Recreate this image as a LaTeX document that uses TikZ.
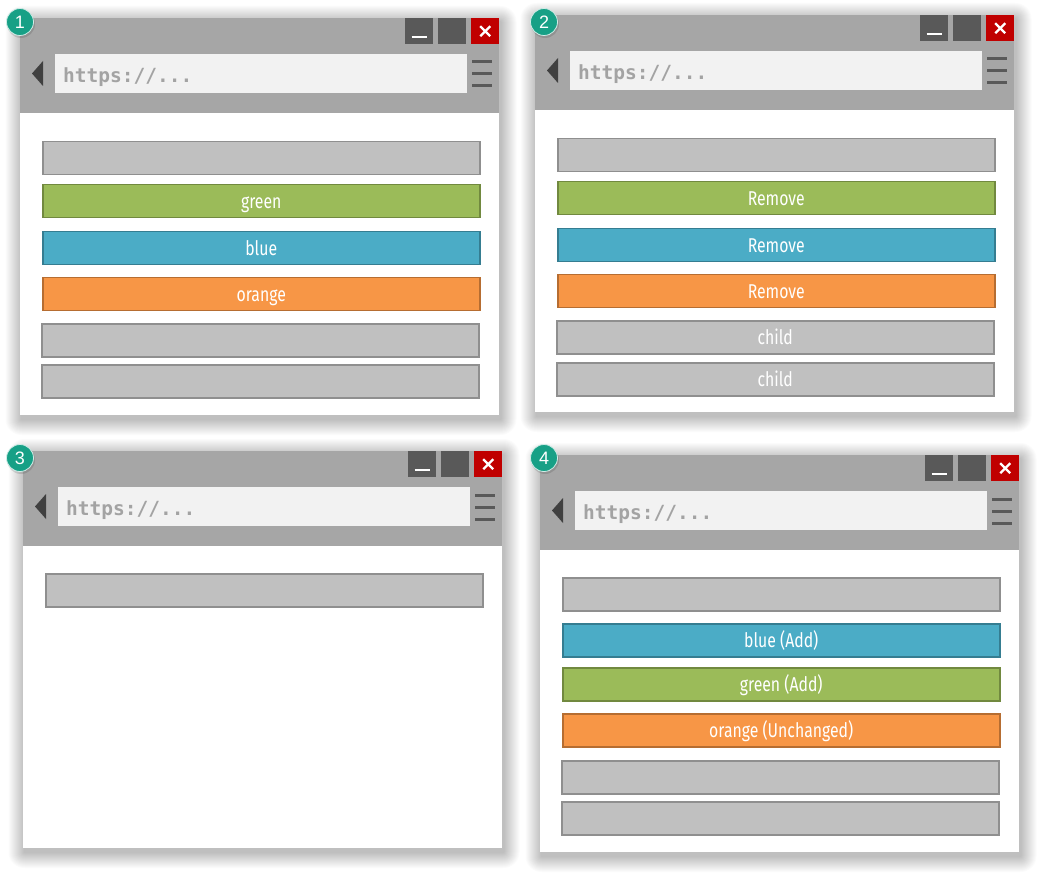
\documentclass[tikz,border=0pt]{standalone}
\usepackage{fontspec}
\setmainfont{Fira Sans}
\newfontfamily\rowfont{Fira Sans}[FakeStretch=0.79]
\newfontfamily\urlfont{DejaVu Sans Mono}
\newfontfamily\badgefont{Liberation Sans}
\definecolor{framegray}{HTML}{A6A6A6}
\definecolor{ctrlgray}{HTML}{595959}
\definecolor{closered}{HTML}{C00000}
\definecolor{barwhite}{HTML}{F2F2F2}
\definecolor{rowgray}{HTML}{C0C0C0}
\definecolor{rowgrayd}{HTML}{8F8F8F}
\definecolor{gfill}{HTML}{9BBB59}\definecolor{gdraw}{HTML}{71893F}
\definecolor{bfill}{HTML}{4BACC6}\definecolor{bdraw}{HTML}{357D91}
\definecolor{ofill}{HTML}{F79646}\definecolor{odraw}{HTML}{B66D31}
\definecolor{badgecol}{HTML}{17A086}
\definecolor{urlgray}{HTML}{A3A3A3}
\definecolor{backgray}{HTML}{404040}
\tikzset{
  winframe/.style={fill=framegray, draw=none, inner sep=0, minimum width=479, minimum height=397, anchor=north west},
  winpage/.style={fill=white, draw=none, inner sep=0, minimum width=479, minimum height=302, anchor=north west},
  addrbar/.style={fill=barwhite, draw=none, inner xsep=8, inner ysep=0, text width=396, align=left, minimum height=39, text height=18, text depth=1, anchor=north west, text=urlgray, font=\urlfont\bfseries\fontsize{19.5}{19.5}\selectfont},
  ctrlbox/.style={fill=ctrlgray, draw=none, inner sep=0, minimum width=28, minimum height=26, anchor=north west},
  closebox/.style={ctrlbox, fill=closered},
  badgestyle/.style={circle, fill=badgecol, draw=white!80!badgecol, line width=0.8, minimum size=27, inner sep=0, text=white, font=\badgefont\fontsize{18}{18}\selectfont},
  rowbase/.style={minimum width=437, minimum height=33, inner sep=0, line width=1.5, text height=16, text depth=2, anchor=north west, text=white, font=\rowfont\fontsize{20}{20}\selectfont},
  grayrow/.style={rowbase, fill=rowgray, draw=rowgrayd},
  greenrow/.style={rowbase, fill=gfill, draw=gdraw},
  bluerow/.style={rowbase, fill=bfill, draw=bdraw},
  orangerow/.style={rowbase, fill=ofill, draw=odraw},
}
\newcommand\browser[6]{% name, x, y, number, badge x, badge y
  \begin{scope}[shift={(#2,#3)}]
    \foreach \i in {1,...,16}
      \fill[black, opacity=0.017, rounded corners=\i] (-\i+1.5,-\i+4) rectangle (479+\i+1.5,397+\i+4);
    \node[winframe] (#1-win) at (0,0) {};
    \node[winpage] (#1-page) at (0,95) {};
    \node[addrbar] (#1-addr) at (35,36) {https://...};
    \node[ctrlbox] (#1-min) at (385,0) {};
    \node[ctrlbox] (#1-max) at (418,0) {};
    \node[closebox] (#1-close) at (451,0) {};
    \draw[white, line width=2] ([xshift=-7.5pt,yshift=-6pt]#1-min.center) -- ([xshift=7.5pt,yshift=-6pt]#1-min.center);
    \draw[white, line width=2.3] ([shift={(-5,-5)}]#1-close.center) -- ([shift={(5,5)}]#1-close.center)
                                 ([shift={(-5,5)}]#1-close.center) -- ([shift={(5,-5)}]#1-close.center);
    \fill[backgray] (23,43) -- (12,55.5) -- (23,68) -- cycle;
    \foreach \yy in {44,56,68}
      \draw[ctrlgray, line width=3] (452,\yy) -- (472,\yy);
  \end{scope}
  \fill[black, opacity=0.12] (#5+1,#6+2) circle (14);
  \node[badgestyle] (#1-badge) at (#5,#6) {#4};
}
\begin{document}
\begin{tikzpicture}[x=1pt,y=-1pt]
\useasboundingbox[fill=white] (0,0) rectangle (1044,877);
% window 1
\browser{w1}{20}{18}{1}{20}{22}
\node[grayrow]   (w1r1) at (42,141) {};
\node[greenrow]  (w1r2) at (42,184) {green};
\node[bluerow]   (w1r3) at (42,231) {blue};
\node[orangerow] (w1r4) at (42,277) {orange};
\node[grayrow]   (w1r5) at (41,323) {};
\node[grayrow]   (w1r6) at (41,364) {};
% window 2
\browser{w2}{535}{15}{2}{544}{22}
\node[grayrow]   (w2r1) at (557,138) {};
\node[greenrow]  (w2r2) at (557,181) {Remove};
\node[bluerow]   (w2r3) at (557,228) {Remove};
\node[orangerow] (w2r4) at (557,274) {Remove};
\node[grayrow]   (w2r5) at (556,320) {child};
\node[grayrow]   (w2r6) at (556,362) {child};
% window 3
\browser{w3}{23}{451}{3}{20}{458}
\node[grayrow]   (w3r1) at (45,573) {};
% window 4
\browser{w4}{540}{455}{4}{544}{458}
\node[grayrow]   (w4r1) at (562,577) {};
\node[bluerow]   (w4r2) at (562,623) {blue (Add)};
\node[greenrow]  (w4r3) at (562,667) {green (Add)};
\node[orangerow] (w4r4) at (562,713) {orange (Unchanged)};
\node[grayrow]   (w4r5) at (561,760) {};
\node[grayrow]   (w4r6) at (561,801) {};
\end{tikzpicture}
\end{document}
